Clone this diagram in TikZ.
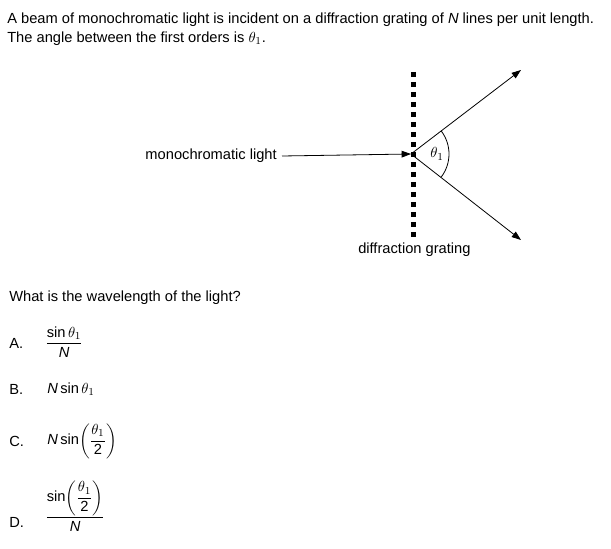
\documentclass[tikz,border=0pt]{standalone}
\usepackage{amsmath}
\usepackage{fontspec}
\setmainfont{Liberation Sans}
\usetikzlibrary{arrows.meta}
\newcommand{\itN}{\text{\textit{N}}}
\begin{document}
\begin{tikzpicture}[x=0.75pt,y=0.75pt,yscale=-1,xscale=1,
  txt/.style={anchor=west,inner sep=0.75pt,font=\fontsize{11}{13}\selectfont},
  ray/.style={-{Triangle[length=7pt,width=5pt]},line width=0.6pt}]
\useasboundingbox (0,0) rectangle (611,549);

% Text Node
\node[txt] (q1) at (6,20) {A beam of monochromatic light is incident on a diffraction grating of \textit{N} lines per unit length.};
\node[txt] (q2) at (6,39) {The angle between the first orders is $\theta_1$.};

% grating
\draw [line width=3.75pt,dash pattern={on 3.75pt off 3.75pt}] (413,72) -- (413,240);
\coordinate (hit) at (411,154);
\coordinate (up) at (521,70);
\coordinate (dn) at (521,240);
\node[txt,anchor=east] (light) at (278,156) {monochromatic light};
\node[txt] (grat) at (357,250) {diffraction grating};
\draw [ray] ([xshift=3pt]light.east) -- (hit);
\draw [ray] (hit) -- (up);
\draw [ray] (hit) -- (dn);
\draw [line width=0.6pt] (hit) ++(37.5:38) arc (37.5:-37.5:38);
\node[font=\fontsize{11}{13}\selectfont] (th) at (437,154) {$\theta_1$};

\node[txt] (q3) at (8,298) {What is the wavelength of the light?};

\node[txt] (la) at (8,343) {A.};
\node[txt] (fa) at (44,342) {$\dfrac{\text{sin}\,\theta_1}{\itN}$};
\node[txt] (lb) at (8,389) {B.};
\node[txt] (fb) at (46,389) {$\itN\,\text{sin}\,\theta_1$};
\node[txt] (lc) at (8,441) {C.};
\node[txt] (fc) at (46,441) {$\itN\,\text{sin}\!\left(\dfrac{\theta_1}{\text{2}}\right)$};
\node[txt] (ld) at (8,522) {D.};
\node[txt] (fd) at (44,506) {$\dfrac{\text{sin}\!\left(\dfrac{\theta_1}{\text{2}}\right)}{\itN}$};
\end{tikzpicture}
\end{document}
